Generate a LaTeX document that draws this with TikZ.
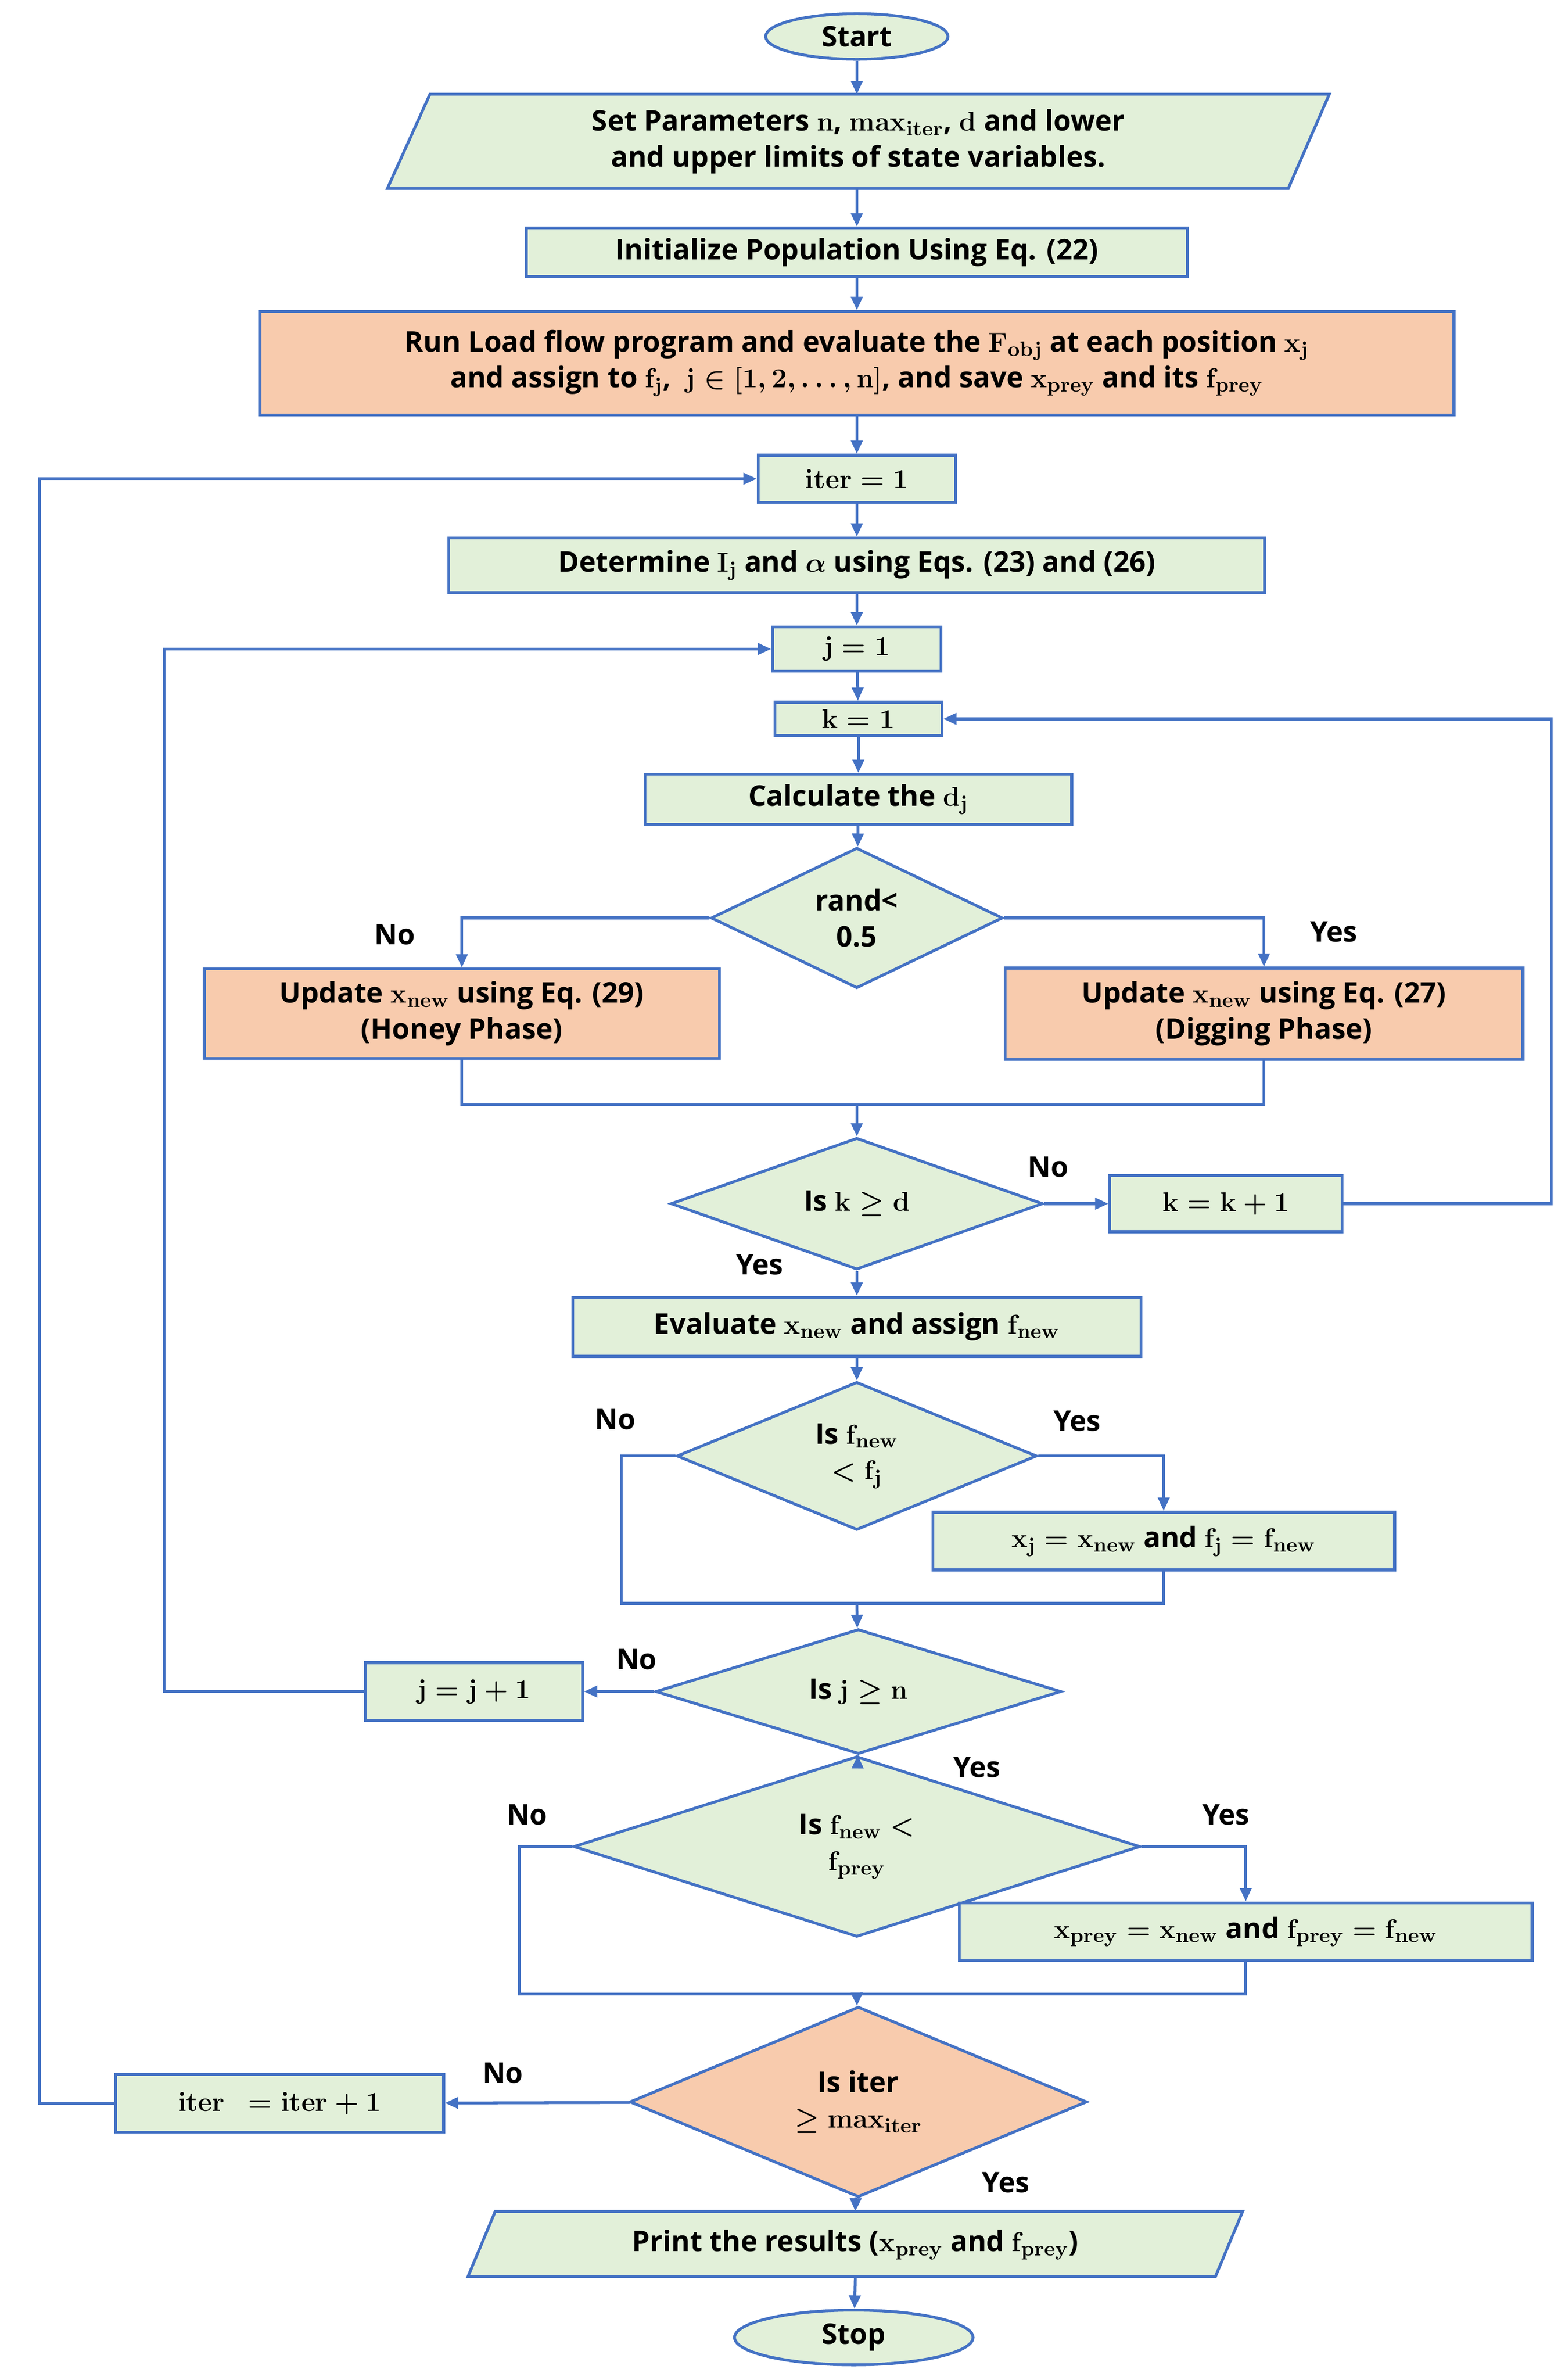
\documentclass[tikz,border=0pt]{standalone}
\usepackage{fontspec}
\setmainfont{Open Sans}
\usetikzlibrary{shapes.geometric,arrows.meta}
\definecolor{gf}{HTML}{E2F0D9}
\definecolor{of}{HTML}{F8CBAD}
\definecolor{bl}{HTML}{4472C4}
\newcommand{\mb}[1]{$\mathbf{#1}$}
\begin{document}
\begin{tikzpicture}[x=0.02818cm,y=-0.02818cm,
  every node/.style={font=\fontsize{15}{19}\selectfont\bfseries\boldmath, inner sep=0pt, align=center},
  bx/.style 2 args={draw=bl, line width=1.5pt, fill=gf, minimum width=#1*0.02818cm, minimum height=#2*0.02818cm},
  ob/.style 2 args={bx={#1}{#2}, fill=of},
  dm/.style 2 args={draw=bl, line width=1.5pt, fill=gf, diamond, minimum width=#1*0.02818cm, minimum height=#2*0.02818cm},
  el/.style 2 args={draw=bl, line width=1.5pt, fill=gf, ellipse, minimum width=#1*0.02818cm, minimum height=#2*0.02818cm},
  ar/.style={draw=bl, line width=1.5pt, -{Triangle[length=7pt,width=6pt]}},
  ln/.style={draw=bl, line width=1.5pt},
  lb/.style={font=\fontsize{15}{19}\selectfont\bfseries}]
\useasboundingbox (0,0) rectangle (1030,1566);
% Start
\node[el={120}{30}] (start) at (564,24) {Start};
% parallelogram 1
\filldraw[draw=bl, fill=gf, line width=1.5pt] (283,62) -- (875,62) -- (848,124) -- (255,124) -- cycle;
\coordinate (p1t) at (564,62); \coordinate (p1b) at (564,124);
\node (p1) at (565,93) {Set Parameters \mb{n}, \mb{max_{iter}}, \mb{d} and lower\\ and upper limits of state variables.};
\node[bx={435}{32}] (init) at (564,166) {Initialize Population Using Eq. (22)};
\node[ob={786}{68}] (run) at (564,239) {Run Load flow program and evaluate the \mb{F_{obj}} at each position \mb{x_j}\\ and assign to \mb{f_j},\; \mb{j\in[1,2,\dots,n]}, and save \mb{x_{prey}} and its \mb{f_{prey}}};
\node[bx={130}{31}] (it1) at (564,315) {\mb{iter=1}};
\node[bx={537}{36}] (det) at (564,372) {Determine \mb{I_j} and \mb{\alpha} using Eqs. (23) and (26)};
\node[bx={111}{29}] (j1) at (564,427) {\mb{j=1}};
\node[bx={110}{22}] (k1) at (565,473) {\mb{k=1}};
\node[bx={281}{33}] (calc) at (565,526) {Calculate the \mb{d_j}};
\node[dm={192}{65}] (d1) at (564,604) {rand<\\0.5};
\node[ob={339}{59}] (ul) at (304,667) {Update \mb{x_{new}} using Eq. (29)\\(Honey Phase)};
\node[ob={341}{60}] (ur) at (832,667) {Update \mb{x_{new}} using Eq. (27)\\(Digging Phase)};
\node[dm={245}{70}] (d2) at (564,792) {Is \mb{k\ge d}};
\node[bx={153}{37}] (kk) at (807,792) {\mb{k=k+1}};
\node[bx={374}{39}] (ev) at (564,873) {Evaluate \mb{x_{new}} and assign \mb{f_{new}}};
\node[dm={237}{70}] (d3) at (564,958) {Is \mb{f_{new}}\\\mb{<f_j}};
\node[bx={304}{38}] (xj) at (766,1014) {\mb{x_j=x_{new}} and \mb{f_j=f_{new}}};
\node[dm={267}{70}] (d4) at (565,1113) {Is \mb{j\ge n}};
\node[bx={143}{38}] (jj) at (312,1113) {\mb{j=j+1}};
\node[dm={373}{68}] (d5) at (564,1215) {Is \mb{f_{new}<}\\\mb{f_{prey}}};
\node[bx={377}{38}] (xp) at (820,1271) {\mb{x_{prey}=x_{new}} and \mb{f_{prey}=f_{new}}};
\node[dm={301}{100}, fill=of] (d6) at (565,1383) {Is iter\\\mb{\ge max_{iter}}};
\node[bx={216}{38}] (ii) at (184,1384) {\mb{iter\ \ =iter+1}};
\filldraw[draw=bl, fill=gf, line width=1.5pt] (326,1455) -- (818,1455) -- (800,1498) -- (308,1498) -- cycle;
\coordinate (p2t) at (563,1455); \coordinate (p2b) at (563,1498);
\node (p2) at (563,1477) {Print the results (\mb{x_{prey}} and \mb{f_{prey}})};
\node[el={157}{36}] (stop) at (562,1538) {Stop};
% connectors
\draw[ar] (start) -- (p1t);
\draw[ar] (p1b) -- (init);
\draw[ar] (init) -- (run);
\draw[ar] (run) -- (it1);
\draw[ar] (it1) -- (det);
\draw[ar] (det) -- (j1);
\draw[ar] (j1) -- (k1);
\draw[ar] (k1) -- (calc);
\draw[ar] (calc) -- (d1);
\draw[ar] (d1.west) -| (ul.north);
\draw[ar] (d1.east) -| (ur.north);
\coordinate (m1) at (564,727);
\draw[ln] (ul.south) |- (m1) -| (ur.south);
\draw[ar] (m1) -- (d2);
\draw[ar] (d2) -- (kk);
\draw[ar] (kk.east) -- (1021,792) |- (k1.east);
\draw[ar] (d2) -- (ev);
\draw[ar] (ev) -- (d3);
\draw[ar] (d3.east) -| (xj.north);
\coordinate (m2) at (564,1055);
\draw[ln] (d3.west) -- (409,958) |- (m2) -| (xj.south);
\draw[ar] (m2) -- (d4);
\draw[ar] (d4) -- (jj);
\draw[ar] (jj.west) -- (108,1113) |- (j1.west);
\draw[ar] (d4) -- (d5);
\draw[ar] (d5.east) -| (xp.north);
\coordinate (m3) at (564,1312);
\draw[ln] (d5.west) -- (342,1215) |- (m3) -| (xp.south);
\draw[ar] (m3) -- (d6);
\draw[ar] (d6) -- (ii);
\draw[ar] (ii.west) -- (26,1384) |- (it1.west);
\draw[ar] (d6) -- (p2t);
\draw[ar] (p2b) -- (stop);
% labels
\node[lb] at (260,615) {No};
\node[lb] at (878,613) {Yes};
\node[lb] at (690,768) {No};
\node[lb] at (500,832) {Yes};
\node[lb] at (405,934) {No};
\node[lb] at (709,935) {Yes};
\node[lb] at (419,1092) {No};
\node[lb] at (643,1163) {Yes};
\node[lb] at (347,1194) {No};
\node[lb] at (807,1194) {Yes};
\node[lb] at (331,1364) {No};
\node[lb] at (662,1436) {Yes};
\end{tikzpicture}
\end{document}
